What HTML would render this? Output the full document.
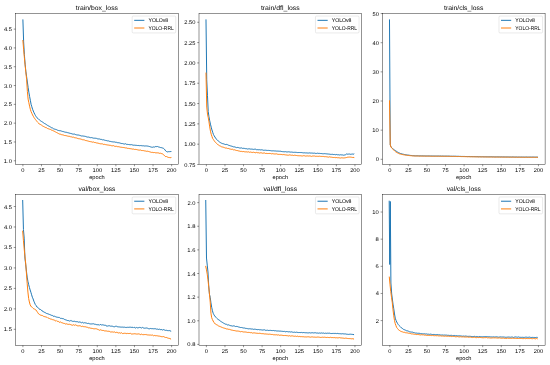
<!DOCTYPE html>
<html><head><meta charset="utf-8"><title>Training loss curves</title>
<style>html,body{margin:0;padding:0;background:#fff;overflow:hidden}svg{display:block}#w{will-change:transform}</style>
</head><body>
<div id="w"><svg width="550" height="365" viewBox="0 0 550 365" font-family="&quot;Liberation Sans&quot;, sans-serif" text-rendering="geometricPrecision">
<rect width="550" height="365" fill="#fff"/>
<clipPath id="c0"><rect x="15.5" y="13.5" width="162.8" height="151"/></clipPath>
<polyline clip-path="url(#c0)" points="22.9,19.9 23.64,41.88 24.39,54.68 25.13,64.25 25.87,71.52 26.62,76.76 27.36,82.03 28.11,87.35 28.85,92.24 29.59,96.36 30.34,100.26 31.08,104.3 31.82,106.76 32.57,109.22 33.31,111.04 34.06,112.81 34.8,114.32 35.54,115.63 36.29,116.8 37.03,117.79 37.77,118.42 38.52,119.27 39.26,119.64 40.01,120.35 40.75,120.99 41.49,121.45 42.24,121.88 42.98,122.37 43.72,122.91 44.47,123.47 45.21,123.79 45.96,124.34 46.7,124.79 47.44,125.32 48.19,125.72 48.93,126.17 49.67,126.49 50.42,126.98 51.16,127.51 51.91,127.99 52.65,128.03 53.39,128.69 54.14,128.98 54.88,129.19 55.62,129.39 56.37,129.57 57.11,130.02 57.85,130.31 58.6,130.51 59.34,130.67 60.09,130.77 60.83,130.79 61.57,131.14 62.32,131.43 63.06,131.39 63.8,131.79 64.55,131.99 65.29,132.21 66.04,132.17 66.78,132.42 67.52,132.63 68.27,132.72 69.01,133.25 69.75,133.15 70.5,133.42 71.24,133.52 71.99,133.92 72.73,134.05 73.47,134.14 74.22,133.96 74.96,134.4 75.7,134.64 76.45,134.84 77.19,134.8 77.94,135.25 78.68,135.03 79.42,135.26 80.17,135.6 80.91,135.65 81.65,136.03 82.4,135.96 83.14,136.01 83.88,136.19 84.63,136.25 85.37,136.37 86.12,136.74 86.86,136.87 87.6,137.1 88.35,137 89.09,137.43 89.83,137.33 90.58,137.7 91.32,137.59 92.07,137.69 92.81,137.94 93.55,138.16 94.3,138.18 95.04,138.22 95.78,138.26 96.53,138.38 97.27,138.74 98.02,138.94 98.76,138.94 99.5,138.97 100.25,139.35 100.99,139.26 101.73,139.49 102.48,139.83 103.22,139.65 103.97,140.14 104.71,140.17 105.45,140.4 106.2,140.52 106.94,140.69 107.68,140.9 108.43,140.86 109.17,141.27 109.92,141.33 110.66,141.48 111.4,141.66 112.15,141.76 112.89,141.91 113.63,141.95 114.38,141.91 115.12,142.21 115.86,142.27 116.61,142.33 117.35,142.67 118.1,142.7 118.84,142.78 119.58,142.91 120.33,143.2 121.07,143.34 121.81,143.58 122.56,143.55 123.3,143.8 124.05,143.96 124.79,144.05 125.53,143.74 126.28,144.29 127.02,144.29 127.76,144.41 128.51,144.51 129.25,144.62 130,144.71 130.74,144.73 131.48,144.64 132.23,144.95 132.97,144.95 133.71,145.26 134.46,145.18 135.2,145.3 135.95,145.26 136.69,145.38 137.43,145.5 138.18,145.39 138.92,145.66 139.66,145.66 140.41,145.58 141.15,145.48 141.89,145.86 142.64,145.79 143.38,145.79 144.13,145.85 144.87,146.12 145.61,145.93 146.36,145.98 147.1,145.84 147.84,146.27 148.59,146.27 149.33,146.49 150.08,146.64 150.82,147.01 151.56,147.16 152.31,147.27 153.05,147.15 153.79,146.89 154.54,147.07 155.28,146.58 156.03,146.67 156.77,146.59 157.51,146.49 158.26,146.86 159,147.04 159.74,147.26 160.49,147.54 161.23,147.56 161.98,147.95 162.72,148.04 163.46,148.33 164.21,148.93 164.95,149.89 165.69,150.91 166.44,151.48 167.18,151.77 167.93,151.99 168.67,151.62 169.41,151.66 170.16,151.58 170.9,151.55" fill="none" stroke="#1f77b4" stroke-width="1" stroke-linejoin="round" stroke-linecap="square"/>
<polyline clip-path="url(#c0)" points="22.9,40.5 23.64,49.41 24.39,57.68 25.13,65.39 25.87,72.43 26.62,79.41 27.36,91.4 28.11,99.13 28.85,102.67 29.59,106.18 30.34,109.28 31.08,111.67 31.82,113.3 32.57,114.94 33.31,116.28 34.06,117.65 34.8,118.69 35.54,119.67 36.29,120.56 37.03,121.53 37.77,122.4 38.52,123.12 39.26,123.98 40.01,124.52 40.75,124.58 41.49,125.14 42.24,125.77 42.98,126.14 43.72,126.58 44.47,126.94 45.21,127.5 45.96,127.45 46.7,127.87 47.44,128.49 48.19,128.67 48.93,129.02 49.67,129.21 50.42,129.4 51.16,129.94 51.91,130.26 52.65,130.42 53.39,130.82 54.14,131.25 54.88,131.52 55.62,132.01 56.37,132.43 57.11,132.82 57.85,133.13 58.6,133.61 59.34,133.97 60.09,134.17 60.83,134.27 61.57,134.69 62.32,134.75 63.06,135.12 63.8,135.08 64.55,135.51 65.29,135.57 66.04,135.6 66.78,135.87 67.52,136.08 68.27,136.26 69.01,136.27 69.75,136.41 70.5,136.72 71.24,136.8 71.99,137.04 72.73,137.26 73.47,137.14 74.22,137.54 74.96,137.84 75.7,137.84 76.45,137.96 77.19,138.34 77.94,138.47 78.68,138.74 79.42,138.79 80.17,138.85 80.91,139.2 81.65,139.36 82.4,139.7 83.14,139.82 83.88,139.8 84.63,140.04 85.37,140.48 86.12,140.65 86.86,140.67 87.6,140.93 88.35,141.17 89.09,141.35 89.83,141.57 90.58,141.66 91.32,141.79 92.07,141.93 92.81,142.25 93.55,142.02 94.3,142.43 95.04,142.61 95.78,142.59 96.53,142.95 97.27,142.98 98.02,143.32 98.76,143.34 99.5,143.58 100.25,143.79 100.99,143.83 101.73,143.82 102.48,143.88 103.22,144.4 103.97,144.31 104.71,144.37 105.45,144.6 106.2,144.68 106.94,144.94 107.68,144.97 108.43,145.09 109.17,145.13 109.92,145.4 110.66,145.35 111.4,145.68 112.15,145.91 112.89,145.67 113.63,145.68 114.38,146.17 115.12,146.53 115.86,146.23 116.61,146.32 117.35,146.66 118.1,146.62 118.84,146.78 119.58,146.92 120.33,147.15 121.07,147.16 121.81,147.36 122.56,147.43 123.3,147.47 124.05,147.65 124.79,147.7 125.53,147.93 126.28,147.92 127.02,148.04 127.76,148.46 128.51,148.4 129.25,148.52 130,148.71 130.74,148.71 131.48,148.85 132.23,149.05 132.97,149.15 133.71,149.09 134.46,149.45 135.2,149.39 135.95,149.45 136.69,149.58 137.43,149.76 138.18,150.12 138.92,149.89 139.66,150.17 140.41,150 141.15,150.37 141.89,150.58 142.64,150.54 143.38,150.59 144.13,150.79 144.87,150.94 145.61,151.04 146.36,151.31 147.1,151.22 147.84,151.26 148.59,151.47 149.33,151.69 150.08,151.95 150.82,152.18 151.56,152.4 152.31,152.3 153.05,152.66 153.79,152.54 154.54,152.5 155.28,152.75 156.03,152.87 156.77,152.82 157.51,152.84 158.26,152.8 159,153.39 159.74,153.3 160.49,153.23 161.23,153.47 161.98,153.83 162.72,153.97 163.46,154.64 164.21,155.25 164.95,156.16 165.69,156.61 166.44,156.5 167.18,157.05 167.93,157.03 168.67,157.53 169.41,157.56 170.16,157.71 170.9,157.57" fill="none" stroke="#ff7f0e" stroke-width="1" stroke-linejoin="round" stroke-linecap="square"/>
<rect x="15.5" y="13.5" width="162.8" height="151" fill="none" stroke="#000" stroke-width="0.42"/>
<path d="M22.9 164.5v1.78M41.49 164.5v1.78M60.09 164.5v1.78M78.68 164.5v1.78M97.27 164.5v1.78M115.86 164.5v1.78M134.46 164.5v1.78M153.05 164.5v1.78M171.64 164.5v1.78M15.5 160.78h-1.78M15.5 141.97h-1.78M15.5 123.16h-1.78M15.5 104.35h-1.78M15.5 85.54h-1.78M15.5 66.73h-1.78M15.5 47.92h-1.78M15.5 29.11h-1.78" stroke="#000" stroke-width="0.42" fill="none"/>
<text transform="matrix(0.1,0.00001,0.00001,0.1,21.3,172.1)" font-size="55" textLength="32.08" lengthAdjust="spacingAndGlyphs" fill="#000" stroke="#000" stroke-width="0">0</text>
<text transform="matrix(0.1,0.00001,0.00001,0.1,38.28,172.1)" font-size="55" textLength="64.17" lengthAdjust="spacingAndGlyphs" fill="#000" stroke="#000" stroke-width="0">25</text>
<text transform="matrix(0.1,0.00001,0.00001,0.1,56.88,172.1)" font-size="55" textLength="64.17" lengthAdjust="spacingAndGlyphs" fill="#000" stroke="#000" stroke-width="0">50</text>
<text transform="matrix(0.1,0.00001,0.00001,0.1,75.47,172.1)" font-size="55" textLength="64.17" lengthAdjust="spacingAndGlyphs" fill="#000" stroke="#000" stroke-width="0">75</text>
<text transform="matrix(0.1,0.00001,0.00001,0.1,92.44,172.1)" font-size="55" textLength="96.71" lengthAdjust="spacingAndGlyphs" fill="#000" stroke="#000" stroke-width="0">100</text>
<text transform="matrix(0.1,0.00001,0.00001,0.1,111.03,172.1)" font-size="55" textLength="96.71" lengthAdjust="spacingAndGlyphs" fill="#000" stroke="#000" stroke-width="0">125</text>
<text transform="matrix(0.1,0.00001,0.00001,0.1,129.62,172.1)" font-size="55" textLength="96.71" lengthAdjust="spacingAndGlyphs" fill="#000" stroke="#000" stroke-width="0">150</text>
<text transform="matrix(0.1,0.00001,0.00001,0.1,148.22,172.1)" font-size="55" textLength="96.71" lengthAdjust="spacingAndGlyphs" fill="#000" stroke="#000" stroke-width="0">175</text>
<text transform="matrix(0.1,0.00001,0.00001,0.1,166.83,172.1)" font-size="55" textLength="96.25" lengthAdjust="spacingAndGlyphs" fill="#000" stroke="#000" stroke-width="0">200</text>
<text transform="matrix(0.1,0.00001,0.00001,0.1,3.87,162.79)" font-size="55" textLength="80.67" lengthAdjust="spacingAndGlyphs" fill="#000" stroke="#000" stroke-width="0">1.0</text>
<text transform="matrix(0.1,0.00001,0.00001,0.1,3.87,143.98)" font-size="55" textLength="80.67" lengthAdjust="spacingAndGlyphs" fill="#000" stroke="#000" stroke-width="0">1.5</text>
<text transform="matrix(0.1,0.00001,0.00001,0.1,3.91,125.17)" font-size="55" textLength="80.21" lengthAdjust="spacingAndGlyphs" fill="#000" stroke="#000" stroke-width="0">2.0</text>
<text transform="matrix(0.1,0.00001,0.00001,0.1,3.91,106.36)" font-size="55" textLength="80.21" lengthAdjust="spacingAndGlyphs" fill="#000" stroke="#000" stroke-width="0">2.5</text>
<text transform="matrix(0.1,0.00001,0.00001,0.1,3.91,87.56)" font-size="55" textLength="80.21" lengthAdjust="spacingAndGlyphs" fill="#000" stroke="#000" stroke-width="0">3.0</text>
<text transform="matrix(0.1,0.00001,0.00001,0.1,3.91,68.75)" font-size="55" textLength="80.21" lengthAdjust="spacingAndGlyphs" fill="#000" stroke="#000" stroke-width="0">3.5</text>
<text transform="matrix(0.1,0.00001,0.00001,0.1,3.91,49.94)" font-size="55" textLength="80.21" lengthAdjust="spacingAndGlyphs" fill="#000" stroke="#000" stroke-width="0">4.0</text>
<text transform="matrix(0.1,0.00001,0.00001,0.1,3.91,31.13)" font-size="55" textLength="80.21" lengthAdjust="spacingAndGlyphs" fill="#000" stroke="#000" stroke-width="0">4.5</text>
<text transform="matrix(0.1,0.00001,0.00001,0.1,75.84,10.44)" font-size="66" textLength="421.21" lengthAdjust="spacingAndGlyphs" fill="#000" stroke="#000" stroke-width="0">train/box_loss</text>
<text transform="matrix(0.1,0.00001,0.00001,0.1,89.15,179.27)" font-size="55" textLength="154.92" lengthAdjust="spacingAndGlyphs" fill="#000" stroke="#000" stroke-width="0">epoch</text>
<path d="M133.18 32.93L174.74 32.93Q175.75 32.93 175.75 31.91L175.75 17.06Q175.75 16.05 174.74 16.05L133.18 16.05Q132.17 16.05 132.17 17.06L132.17 31.91Q132.17 32.93 133.18 32.93Z" fill="#fff" fill-opacity="0.8" stroke="#ccc" stroke-opacity="0.8" stroke-width="0.51"/>
<path d="M134.2 20.33L144.39 20.33" stroke="#1f77b4" stroke-width="1"/>
<path d="M134.2 28.01L144.39 28.01" stroke="#ff7f0e" stroke-width="1"/>
<text transform="matrix(0.1,0.00001,0.00001,0.1,148.46,22.12)" font-size="55" textLength="197.08" lengthAdjust="spacingAndGlyphs" fill="#000" stroke="#000" stroke-width="0">YOLOv8</text>
<text transform="matrix(0.1,0.00001,0.00001,0.1,148.46,29.8)" font-size="55" textLength="252.54" lengthAdjust="spacingAndGlyphs" fill="#000" stroke="#000" stroke-width="0">YOLO-RRL</text>
<clipPath id="c1"><rect x="199" y="13.5" width="162.6" height="151"/></clipPath>
<polyline clip-path="url(#c1)" points="206,19.9 206.74,79.86 207.49,95.77 208.23,111.63 208.97,116.73 209.71,120.82 210.46,124.2 211.2,127.17 211.94,129.97 212.69,132.31 213.43,134.45 214.17,135.77 214.91,137.04 215.66,138.09 216.4,139.19 217.14,139.93 217.88,140.72 218.63,141.23 219.37,141.9 220.11,142.3 220.86,142.95 221.6,143.24 222.34,143.55 223.08,143.81 223.83,143.85 224.57,144.26 225.31,144.59 226.06,144.32 226.8,144.48 227.54,144.69 228.28,145.17 229.03,145.3 229.77,145.66 230.51,145.87 231.26,146.06 232,146.32 232.74,146.5 233.48,146.85 234.23,146.81 234.97,147.06 235.71,147.29 236.46,147.61 237.2,147.43 237.94,147.51 238.68,147.67 239.43,147.96 240.17,147.9 240.91,148.18 241.65,147.89 242.4,148.33 243.14,148.41 243.88,148.19 244.63,148.46 245.37,148.67 246.11,148.61 246.85,148.8 247.6,149.04 248.34,148.86 249.08,148.86 249.83,148.87 250.57,149.11 251.31,149.08 252.05,149.15 252.8,149.22 253.54,149.38 254.28,149.23 255.03,149.24 255.77,149.19 256.51,149.69 257.25,149.62 258,149.85 258.74,149.73 259.48,149.7 260.22,149.9 260.97,149.89 261.71,149.81 262.45,149.91 263.2,150.29 263.94,150.17 264.68,150.24 265.42,150.21 266.17,150.22 266.91,150.47 267.65,150.41 268.4,150.39 269.14,150.52 269.88,150.48 270.62,150.67 271.37,150.84 272.11,150.66 272.85,150.99 273.6,150.8 274.34,150.95 275.08,150.89 275.82,151.02 276.57,151.1 277.31,151.1 278.05,151.12 278.79,151.18 279.54,151.22 280.28,151.18 281.02,151.39 281.77,151.52 282.51,151.63 283.25,151.65 283.99,151.92 284.74,151.72 285.48,151.67 286.22,152 286.97,151.7 287.71,151.99 288.45,151.81 289.19,152.02 289.94,151.78 290.68,152.18 291.42,152.09 292.17,152.04 292.91,152.41 293.65,152.34 294.39,152.3 295.14,152.25 295.88,152.37 296.62,152.4 297.37,152.55 298.11,152.6 298.85,152.46 299.59,152.52 300.34,152.56 301.08,152.5 301.82,152.63 302.56,152.72 303.31,152.85 304.05,152.96 304.79,152.74 305.54,152.93 306.28,152.84 307.02,153.18 307.76,152.95 308.51,153.05 309.25,152.9 309.99,152.95 310.74,153.1 311.48,153.06 312.22,153.18 312.96,152.98 313.71,153.28 314.45,153.12 315.19,153.47 315.94,153.26 316.68,153.45 317.42,153.19 318.16,153.44 318.91,153.32 319.65,153.4 320.39,153.5 321.13,153.5 321.88,153.61 322.62,153.72 323.36,153.76 324.11,153.72 324.85,153.62 325.59,153.75 326.33,153.88 327.08,153.71 327.82,154.11 328.56,154.05 329.31,154.11 330.05,154.32 330.79,154.35 331.53,154.36 332.28,154.27 333.02,154.49 333.76,154.55 334.51,154.46 335.25,154.74 335.99,154.73 336.73,154.48 337.48,154.78 338.22,154.66 338.96,154.99 339.7,154.98 340.45,154.78 341.19,154.84 341.93,154.98 342.68,154.95 343.42,155.18 344.16,155.09 344.9,154.91 345.65,154.7 346.39,154.02 347.13,154.14 347.88,154.2 348.62,154.08 349.36,154.02 350.1,154.18 350.85,154.35 351.59,154.15 352.33,154.01 353.08,154.34 353.82,153.96" fill="none" stroke="#1f77b4" stroke-width="1" stroke-linejoin="round" stroke-linecap="square"/>
<polyline clip-path="url(#c1)" points="206,73.1 206.74,107.05 207.49,114.05 208.23,117.56 208.97,121.78 209.71,126.9 210.46,131.2 211.2,134.23 211.94,136.42 212.69,138.54 213.43,139.56 214.17,140.71 214.91,141.76 215.66,142.6 216.4,143.28 217.14,143.99 217.88,144.66 218.63,145.08 219.37,145.67 220.11,145.94 220.86,146.33 221.6,146.83 222.34,146.99 223.08,147.12 223.83,147.39 224.57,147.68 225.31,148.04 226.06,147.96 226.8,148.14 227.54,148.46 228.28,148.42 229.03,148.67 229.77,148.99 230.51,149.13 231.26,149.25 232,149.48 232.74,149.23 233.48,149.86 234.23,149.79 234.97,149.87 235.71,150.28 236.46,150.51 237.2,150.56 237.94,150.66 238.68,150.96 239.43,151.09 240.17,151.38 240.91,151.39 241.65,151.42 242.4,151.62 243.14,151.54 243.88,151.54 244.63,151.8 245.37,151.87 246.11,151.85 246.85,151.85 247.6,152.04 248.34,151.78 249.08,152.22 249.83,152.26 250.57,152.06 251.31,152.32 252.05,152.25 252.8,152.51 253.54,152.23 254.28,152.41 255.03,152.66 255.77,152.76 256.51,152.41 257.25,152.66 258,152.8 258.74,152.74 259.48,153.05 260.22,152.76 260.97,152.99 261.71,152.87 262.45,153.21 263.2,153.09 263.94,153.1 264.68,152.99 265.42,153.44 266.17,153.39 266.91,153.44 267.65,153.54 268.4,153.5 269.14,153.44 269.88,153.48 270.62,153.54 271.37,153.85 272.11,153.57 272.85,153.74 273.6,153.83 274.34,153.95 275.08,154.05 275.82,153.89 276.57,153.89 277.31,154.16 278.05,154.37 278.79,154.37 279.54,154.36 280.28,154.36 281.02,154.49 281.77,154.48 282.51,154.67 283.25,154.53 283.99,154.7 284.74,154.73 285.48,154.86 286.22,154.88 286.97,155.21 287.71,155.14 288.45,155.19 289.19,154.82 289.94,155.07 290.68,155.09 291.42,155.28 292.17,154.99 292.91,155.45 293.65,155.48 294.39,155.24 295.14,155.33 295.88,155.39 296.62,155.53 297.37,155.64 298.11,155.85 298.85,155.62 299.59,155.77 300.34,155.73 301.08,155.95 301.82,155.86 302.56,155.97 303.31,155.7 304.05,155.83 304.79,155.78 305.54,156.09 306.28,156.01 307.02,155.92 307.76,155.92 308.51,156.06 309.25,155.94 309.99,155.93 310.74,156.12 311.48,156.38 312.22,156.08 312.96,156.06 313.71,156.01 314.45,156.01 315.19,156.26 315.94,156.32 316.68,156.25 317.42,156.31 318.16,156.32 318.91,156.35 319.65,156.18 320.39,156.34 321.13,156.44 321.88,156.37 322.62,156.45 323.36,156.45 324.11,156.56 324.85,156.75 325.59,156.65 326.33,156.74 327.08,156.92 327.82,156.96 328.56,157.14 329.31,156.75 330.05,157.17 330.79,157.07 331.53,157.21 332.28,157.35 333.02,157.44 333.76,157.5 334.51,157.45 335.25,157.68 335.99,157.51 336.73,157.58 337.48,157.74 338.22,157.62 338.96,157.99 339.7,157.89 340.45,158.06 341.19,157.83 341.93,157.81 342.68,157.9 343.42,157.98 344.16,157.83 344.9,157.93 345.65,157.69 346.39,157.59 347.13,157.13 347.88,157.33 348.62,157.12 349.36,157.09 350.1,157.13 350.85,157.1 351.59,157.29 352.33,157.44 353.08,157.39 353.82,157.52" fill="none" stroke="#ff7f0e" stroke-width="1" stroke-linejoin="round" stroke-linecap="square"/>
<rect x="199" y="13.5" width="162.6" height="151" fill="none" stroke="#000" stroke-width="0.42"/>
<path d="M206.39 164.5v1.78M224.96 164.5v1.78M243.53 164.5v1.78M262.1 164.5v1.78M280.67 164.5v1.78M299.24 164.5v1.78M317.81 164.5v1.78M336.38 164.5v1.78M354.95 164.5v1.78M199 164.5h-1.78M199 144.18h-1.78M199 123.86h-1.78M199 103.55h-1.78M199 83.23h-1.78M199 62.91h-1.78M199 42.59h-1.78M199 22.28h-1.78" stroke="#000" stroke-width="0.42" fill="none"/>
<text transform="matrix(0.1,0.00001,0.00001,0.1,204.79,172.1)" font-size="55" textLength="32.08" lengthAdjust="spacingAndGlyphs" fill="#000" stroke="#000" stroke-width="0">0</text>
<text transform="matrix(0.1,0.00001,0.00001,0.1,221.75,172.1)" font-size="55" textLength="64.17" lengthAdjust="spacingAndGlyphs" fill="#000" stroke="#000" stroke-width="0">25</text>
<text transform="matrix(0.1,0.00001,0.00001,0.1,240.32,172.1)" font-size="55" textLength="64.17" lengthAdjust="spacingAndGlyphs" fill="#000" stroke="#000" stroke-width="0">50</text>
<text transform="matrix(0.1,0.00001,0.00001,0.1,258.89,172.1)" font-size="55" textLength="64.17" lengthAdjust="spacingAndGlyphs" fill="#000" stroke="#000" stroke-width="0">75</text>
<text transform="matrix(0.1,0.00001,0.00001,0.1,275.84,172.1)" font-size="55" textLength="96.71" lengthAdjust="spacingAndGlyphs" fill="#000" stroke="#000" stroke-width="0">100</text>
<text transform="matrix(0.1,0.00001,0.00001,0.1,294.41,172.1)" font-size="55" textLength="96.71" lengthAdjust="spacingAndGlyphs" fill="#000" stroke="#000" stroke-width="0">125</text>
<text transform="matrix(0.1,0.00001,0.00001,0.1,312.98,172.1)" font-size="55" textLength="96.71" lengthAdjust="spacingAndGlyphs" fill="#000" stroke="#000" stroke-width="0">150</text>
<text transform="matrix(0.1,0.00001,0.00001,0.1,331.55,172.1)" font-size="55" textLength="96.71" lengthAdjust="spacingAndGlyphs" fill="#000" stroke="#000" stroke-width="0">175</text>
<text transform="matrix(0.1,0.00001,0.00001,0.1,350.14,172.1)" font-size="55" textLength="96.25" lengthAdjust="spacingAndGlyphs" fill="#000" stroke="#000" stroke-width="0">200</text>
<text transform="matrix(0.1,0.00001,0.00001,0.1,184.21,166.52)" font-size="55" textLength="112.29" lengthAdjust="spacingAndGlyphs" fill="#000" stroke="#000" stroke-width="0">0.75</text>
<text transform="matrix(0.1,0.00001,0.00001,0.1,184.16,146.2)" font-size="55" textLength="112.75" lengthAdjust="spacingAndGlyphs" fill="#000" stroke="#000" stroke-width="0">1.00</text>
<text transform="matrix(0.1,0.00001,0.00001,0.1,184.16,125.88)" font-size="55" textLength="112.75" lengthAdjust="spacingAndGlyphs" fill="#000" stroke="#000" stroke-width="0">1.25</text>
<text transform="matrix(0.1,0.00001,0.00001,0.1,184.16,105.56)" font-size="55" textLength="112.75" lengthAdjust="spacingAndGlyphs" fill="#000" stroke="#000" stroke-width="0">1.50</text>
<text transform="matrix(0.1,0.00001,0.00001,0.1,184.16,85.25)" font-size="55" textLength="112.75" lengthAdjust="spacingAndGlyphs" fill="#000" stroke="#000" stroke-width="0">1.75</text>
<text transform="matrix(0.1,0.00001,0.00001,0.1,184.21,64.93)" font-size="55" textLength="112.29" lengthAdjust="spacingAndGlyphs" fill="#000" stroke="#000" stroke-width="0">2.00</text>
<text transform="matrix(0.1,0.00001,0.00001,0.1,184.21,44.61)" font-size="55" textLength="112.29" lengthAdjust="spacingAndGlyphs" fill="#000" stroke="#000" stroke-width="0">2.25</text>
<text transform="matrix(0.1,0.00001,0.00001,0.1,184.21,24.29)" font-size="55" textLength="112.29" lengthAdjust="spacingAndGlyphs" fill="#000" stroke="#000" stroke-width="0">2.50</text>
<text transform="matrix(0.1,0.00001,0.00001,0.1,260.89,10.44)" font-size="66" textLength="388.21" lengthAdjust="spacingAndGlyphs" fill="#000" stroke="#000" stroke-width="0">train/dfl_loss</text>
<text transform="matrix(0.1,0.00001,0.00001,0.1,272.55,179.27)" font-size="55" textLength="154.92" lengthAdjust="spacingAndGlyphs" fill="#000" stroke="#000" stroke-width="0">epoch</text>
<path d="M316.48 32.93L358.04 32.93Q359.05 32.93 359.05 31.91L359.05 17.06Q359.05 16.05 358.04 16.05L316.48 16.05Q315.47 16.05 315.47 17.06L315.47 31.91Q315.47 32.93 316.48 32.93Z" fill="#fff" fill-opacity="0.8" stroke="#ccc" stroke-opacity="0.8" stroke-width="0.51"/>
<path d="M317.5 20.33L327.69 20.33" stroke="#1f77b4" stroke-width="1"/>
<path d="M317.5 28.01L327.69 28.01" stroke="#ff7f0e" stroke-width="1"/>
<text transform="matrix(0.1,0.00001,0.00001,0.1,331.76,22.12)" font-size="55" textLength="197.08" lengthAdjust="spacingAndGlyphs" fill="#000" stroke="#000" stroke-width="0">YOLOv8</text>
<text transform="matrix(0.1,0.00001,0.00001,0.1,331.76,29.8)" font-size="55" textLength="252.54" lengthAdjust="spacingAndGlyphs" fill="#000" stroke="#000" stroke-width="0">YOLO-RRL</text>
<clipPath id="c2"><rect x="382.4" y="13.5" width="162.7" height="151"/></clipPath>
<polyline clip-path="url(#c2)" points="389.5,19.9 390.24,144.66 390.99,146.72 391.73,147.82 392.47,148.43 393.22,149.02 393.96,149.65 394.7,150.16 395.45,150.58 396.19,151.13 396.93,151.63 397.68,152.15 398.42,152.55 399.16,152.95 399.91,153.19 400.65,153.58 401.39,153.67 402.14,154 402.88,154.15 403.62,154.3 404.37,154.47 405.11,154.61 405.85,154.77 406.6,154.87 407.34,155.04 408.08,155.03 408.82,155.2 409.57,155.27 410.31,155.42 411.05,155.4 411.8,155.54 412.54,155.63 413.28,155.62 414.03,155.75 414.77,155.75 415.51,155.8 416.26,155.81 417,155.76 417.74,155.78 418.49,155.82 419.23,155.87 419.97,155.88 420.72,155.84 421.46,155.85 422.2,155.86 422.95,155.87 423.69,155.9 424.43,155.91 425.18,156 425.92,155.91 426.66,155.93 427.41,155.96 428.15,155.92 428.89,155.94 429.64,155.96 430.38,156 431.12,155.93 431.87,156.03 432.61,155.97 433.35,156 434.1,156.03 434.84,156.02 435.58,156.04 436.33,156.02 437.07,156.02 437.81,156.04 438.56,155.99 439.3,156.08 440.04,156.02 440.79,156.01 441.53,156.13 442.27,156.06 443.01,156.03 443.76,156.15 444.5,156.08 445.24,156.14 445.99,156.08 446.73,156.12 447.47,156.08 448.22,156.08 448.96,156.13 449.7,156.17 450.45,156.21 451.19,156.29 451.93,156.17 452.68,156.26 453.42,156.22 454.16,156.25 454.91,156.21 455.65,156.23 456.39,156.27 457.14,156.27 457.88,156.32 458.62,156.31 459.37,156.4 460.11,156.37 460.85,156.39 461.6,156.44 462.34,156.43 463.08,156.43 463.83,156.44 464.57,156.45 465.31,156.51 466.06,156.51 466.8,156.51 467.54,156.54 468.29,156.51 469.03,156.56 469.77,156.5 470.52,156.61 471.26,156.58 472,156.6 472.75,156.62 473.49,156.61 474.23,156.62 474.98,156.68 475.72,156.65 476.46,156.63 477.2,156.68 477.95,156.62 478.69,156.75 479.43,156.69 480.18,156.7 480.92,156.79 481.66,156.79 482.41,156.73 483.15,156.75 483.89,156.78 484.64,156.81 485.38,156.75 486.12,156.77 486.87,156.81 487.61,156.79 488.35,156.81 489.1,156.81 489.84,156.76 490.58,156.78 491.33,156.72 492.07,156.81 492.81,156.88 493.56,156.8 494.3,156.89 495.04,156.89 495.79,156.85 496.53,156.86 497.27,156.87 498.02,156.85 498.76,156.87 499.5,156.89 500.25,156.92 500.99,156.93 501.73,156.88 502.48,156.95 503.22,156.9 503.96,156.92 504.71,156.95 505.45,156.94 506.19,156.94 506.94,156.96 507.68,156.94 508.42,156.94 509.17,156.96 509.91,157.01 510.65,156.98 511.39,157.06 512.14,157 512.88,156.89 513.62,156.99 514.37,157.07 515.11,157.01 515.85,157 516.6,156.99 517.34,157.08 518.08,157.07 518.83,157.06 519.57,157.06 520.31,157.1 521.06,157.08 521.8,157.01 522.54,157.08 523.29,157.07 524.03,157.06 524.77,157.09 525.52,157.07 526.26,156.97 527,157.13 527.75,157.12 528.49,157.08 529.23,157.07 529.98,157.09 530.72,157.04 531.46,157.1 532.21,157.08 532.95,157.08 533.69,157.06 534.44,157.07 535.18,157.14 535.92,157.15 536.67,157.12 537.41,157.1" fill="none" stroke="#1f77b4" stroke-width="1" stroke-linejoin="round" stroke-linecap="square"/>
<polyline clip-path="url(#c2)" points="389.5,100.8 390.24,144.97 390.99,147.01 391.73,148.09 392.47,148.72 393.22,149.42 393.96,150.27 394.7,151 395.45,151.65 396.19,152.19 396.93,152.6 397.68,152.96 398.42,153.34 399.16,153.74 399.91,153.94 400.65,154.08 401.39,154.33 402.14,154.47 402.88,154.65 403.62,154.79 404.37,154.91 405.11,155.07 405.85,155.15 406.6,155.23 407.34,155.36 408.08,155.47 408.82,155.47 409.57,155.6 410.31,155.66 411.05,155.76 411.8,155.78 412.54,155.89 413.28,155.93 414.03,155.96 414.77,155.96 415.51,156 416.26,155.99 417,155.99 417.74,156.06 418.49,156.02 419.23,156.12 419.97,156.11 420.72,156.02 421.46,156.12 422.2,156.07 422.95,156.12 423.69,156.13 424.43,156.07 425.18,156.14 425.92,156.14 426.66,156.19 427.41,156.12 428.15,156.2 428.89,156.13 429.64,156.17 430.38,156.15 431.12,156.24 431.87,156.21 432.61,156.29 433.35,156.23 434.1,156.24 434.84,156.24 435.58,156.2 436.33,156.22 437.07,156.28 437.81,156.22 438.56,156.24 439.3,156.24 440.04,156.27 440.79,156.24 441.53,156.26 442.27,156.28 443.01,156.28 443.76,156.25 444.5,156.33 445.24,156.26 445.99,156.27 446.73,156.28 447.47,156.37 448.22,156.33 448.96,156.32 449.7,156.33 450.45,156.4 451.19,156.36 451.93,156.36 452.68,156.44 453.42,156.39 454.16,156.43 454.91,156.46 455.65,156.46 456.39,156.49 457.14,156.55 457.88,156.5 458.62,156.49 459.37,156.48 460.11,156.55 460.85,156.56 461.6,156.6 462.34,156.59 463.08,156.6 463.83,156.61 464.57,156.63 465.31,156.67 466.06,156.67 466.8,156.7 467.54,156.78 468.29,156.74 469.03,156.68 469.77,156.81 470.52,156.78 471.26,156.74 472,156.82 472.75,156.8 473.49,156.79 474.23,156.8 474.98,156.8 475.72,156.85 476.46,156.9 477.2,156.86 477.95,156.89 478.69,156.95 479.43,156.85 480.18,156.91 480.92,156.9 481.66,156.88 482.41,156.89 483.15,156.93 483.89,156.96 484.64,156.93 485.38,156.96 486.12,156.99 486.87,156.98 487.61,157.01 488.35,157 489.1,157.01 489.84,157.06 490.58,157.03 491.33,157.02 492.07,157.05 492.81,157 493.56,157.02 494.3,157.07 495.04,157.07 495.79,157.11 496.53,157.06 497.27,157.02 498.02,157.15 498.76,157.12 499.5,157.05 500.25,157.15 500.99,157.11 501.73,157.05 502.48,157.1 503.22,157.11 503.96,157.19 504.71,157.11 505.45,157.13 506.19,157.14 506.94,157.14 507.68,157.13 508.42,157.17 509.17,157.21 509.91,157.2 510.65,157.15 511.39,157.15 512.14,157.2 512.88,157.17 513.62,157.18 514.37,157.15 515.11,157.28 515.85,157.25 516.6,157.19 517.34,157.26 518.08,157.28 518.83,157.15 519.57,157.22 520.31,157.23 521.06,157.27 521.8,157.25 522.54,157.25 523.29,157.26 524.03,157.33 524.77,157.34 525.52,157.25 526.26,157.24 527,157.37 527.75,157.24 528.49,157.26 529.23,157.29 529.98,157.3 530.72,157.33 531.46,157.3 532.21,157.26 532.95,157.31 533.69,157.3 534.44,157.36 535.18,157.3 535.92,157.25 536.67,157.26 537.41,157.35" fill="none" stroke="#ff7f0e" stroke-width="1" stroke-linejoin="round" stroke-linecap="square"/>
<rect x="382.4" y="13.5" width="162.7" height="151" fill="none" stroke="#000" stroke-width="0.42"/>
<path d="M389.8 164.5v1.78M408.38 164.5v1.78M426.96 164.5v1.78M445.54 164.5v1.78M464.12 164.5v1.78M482.7 164.5v1.78M501.28 164.5v1.78M519.87 164.5v1.78M538.45 164.5v1.78M382.4 159.31h-1.78M382.4 130.16h-1.78M382.4 101.01h-1.78M382.4 71.86h-1.78M382.4 42.71h-1.78M382.4 13.56h-1.78" stroke="#000" stroke-width="0.42" fill="none"/>
<text transform="matrix(0.1,0.00001,0.00001,0.1,388.19,172.1)" font-size="55" textLength="32.08" lengthAdjust="spacingAndGlyphs" fill="#000" stroke="#000" stroke-width="0">0</text>
<text transform="matrix(0.1,0.00001,0.00001,0.1,405.17,172.1)" font-size="55" textLength="64.17" lengthAdjust="spacingAndGlyphs" fill="#000" stroke="#000" stroke-width="0">25</text>
<text transform="matrix(0.1,0.00001,0.00001,0.1,423.75,172.1)" font-size="55" textLength="64.17" lengthAdjust="spacingAndGlyphs" fill="#000" stroke="#000" stroke-width="0">50</text>
<text transform="matrix(0.1,0.00001,0.00001,0.1,442.33,172.1)" font-size="55" textLength="64.17" lengthAdjust="spacingAndGlyphs" fill="#000" stroke="#000" stroke-width="0">75</text>
<text transform="matrix(0.1,0.00001,0.00001,0.1,459.29,172.1)" font-size="55" textLength="96.71" lengthAdjust="spacingAndGlyphs" fill="#000" stroke="#000" stroke-width="0">100</text>
<text transform="matrix(0.1,0.00001,0.00001,0.1,477.87,172.1)" font-size="55" textLength="96.71" lengthAdjust="spacingAndGlyphs" fill="#000" stroke="#000" stroke-width="0">125</text>
<text transform="matrix(0.1,0.00001,0.00001,0.1,496.45,172.1)" font-size="55" textLength="96.71" lengthAdjust="spacingAndGlyphs" fill="#000" stroke="#000" stroke-width="0">150</text>
<text transform="matrix(0.1,0.00001,0.00001,0.1,515.03,172.1)" font-size="55" textLength="96.71" lengthAdjust="spacingAndGlyphs" fill="#000" stroke="#000" stroke-width="0">175</text>
<text transform="matrix(0.1,0.00001,0.00001,0.1,533.64,172.1)" font-size="55" textLength="96.25" lengthAdjust="spacingAndGlyphs" fill="#000" stroke="#000" stroke-width="0">200</text>
<text transform="matrix(0.1,0.00001,0.00001,0.1,375.63,161.33)" font-size="55" textLength="32.08" lengthAdjust="spacingAndGlyphs" fill="#000" stroke="#000" stroke-width="0">0</text>
<text transform="matrix(0.1,0.00001,0.00001,0.1,372.37,132.18)" font-size="55" textLength="64.62" lengthAdjust="spacingAndGlyphs" fill="#000" stroke="#000" stroke-width="0">10</text>
<text transform="matrix(0.1,0.00001,0.00001,0.1,372.42,103.03)" font-size="55" textLength="64.17" lengthAdjust="spacingAndGlyphs" fill="#000" stroke="#000" stroke-width="0">20</text>
<text transform="matrix(0.1,0.00001,0.00001,0.1,372.42,73.88)" font-size="55" textLength="64.17" lengthAdjust="spacingAndGlyphs" fill="#000" stroke="#000" stroke-width="0">30</text>
<text transform="matrix(0.1,0.00001,0.00001,0.1,372.42,44.73)" font-size="55" textLength="64.17" lengthAdjust="spacingAndGlyphs" fill="#000" stroke="#000" stroke-width="0">40</text>
<text transform="matrix(0.1,0.00001,0.00001,0.1,372.42,15.57)" font-size="55" textLength="64.17" lengthAdjust="spacingAndGlyphs" fill="#000" stroke="#000" stroke-width="0">50</text>
<text transform="matrix(0.1,0.00001,0.00001,0.1,444.06,10.44)" font-size="66" textLength="393.71" lengthAdjust="spacingAndGlyphs" fill="#000" stroke="#000" stroke-width="0">train/cls_loss</text>
<text transform="matrix(0.1,0.00001,0.00001,0.1,456,179.27)" font-size="55" textLength="154.92" lengthAdjust="spacingAndGlyphs" fill="#000" stroke="#000" stroke-width="0">epoch</text>
<path d="M499.98 32.93L541.54 32.93Q542.55 32.93 542.55 31.91L542.55 17.06Q542.55 16.05 541.54 16.05L499.98 16.05Q498.97 16.05 498.97 17.06L498.97 31.91Q498.97 32.93 499.98 32.93Z" fill="#fff" fill-opacity="0.8" stroke="#ccc" stroke-opacity="0.8" stroke-width="0.51"/>
<path d="M501 20.33L511.19 20.33" stroke="#1f77b4" stroke-width="1"/>
<path d="M501 28.01L511.19 28.01" stroke="#ff7f0e" stroke-width="1"/>
<text transform="matrix(0.1,0.00001,0.00001,0.1,515.26,22.12)" font-size="55" textLength="197.08" lengthAdjust="spacingAndGlyphs" fill="#000" stroke="#000" stroke-width="0">YOLOv8</text>
<text transform="matrix(0.1,0.00001,0.00001,0.1,515.26,29.8)" font-size="55" textLength="252.54" lengthAdjust="spacingAndGlyphs" fill="#000" stroke="#000" stroke-width="0">YOLO-RRL</text>
<clipPath id="c3"><rect x="15.5" y="194.4" width="162.8" height="151"/></clipPath>
<polyline clip-path="url(#c3)" points="22.7,200.5 23.44,229.53 24.19,238.15 24.93,258.13 25.67,264.18 26.42,271.03 27.16,277.07 27.91,281.29 28.65,284.56 29.39,287.37 30.14,289.96 30.88,292.27 31.62,294.76 32.37,297.26 33.11,298.94 33.86,301.18 34.6,302.89 35.34,304.56 36.09,305.47 36.83,306.91 37.57,307.2 38.32,307.96 39.06,308.83 39.81,309.46 40.55,309.53 41.29,309.98 42.04,310.94 42.78,311.08 43.52,312 44.27,312.21 45.01,312.57 45.76,312.92 46.5,313.44 47.24,313.53 47.99,314.15 48.73,314.08 49.47,314.45 50.22,314.63 50.96,315.22 51.71,315.36 52.45,315.41 53.19,316.35 53.94,316.01 54.68,316.29 55.42,316.63 56.17,317.16 56.91,316.91 57.65,317.33 58.4,317.42 59.14,317.28 59.89,318.07 60.63,318.38 61.37,318.34 62.12,318.66 62.86,318.56 63.6,318.81 64.35,319.33 65.09,319.81 65.84,319.77 66.58,320.16 67.32,320.5 68.07,320.46 68.81,320.72 69.55,321.07 70.3,320.56 71.04,321.16 71.79,320.65 72.53,321.32 73.27,321.37 74.02,321.3 74.76,321.28 75.5,321.62 76.25,321.64 76.99,321.86 77.74,321.72 78.48,322.17 79.22,321.9 79.97,322.18 80.71,322.27 81.45,322.77 82.2,322.22 82.94,322.58 83.68,323.07 84.43,322.74 85.17,322.7 85.92,323.17 86.66,323.14 87.4,323.52 88.15,323.2 88.89,323.57 89.63,323.78 90.38,323.97 91.12,323.56 91.87,324.26 92.61,323.8 93.35,323.75 94.1,323.98 94.84,324.34 95.58,324.32 96.33,324.6 97.07,324.7 97.82,324.74 98.56,324.69 99.3,325.28 100.05,324.4 100.79,324.6 101.53,324.98 102.28,324.89 103.02,324.66 103.77,325.17 104.51,325.27 105.25,324.95 106,325.83 106.74,326.02 107.48,326.08 108.23,325.75 108.97,325.99 109.72,325.76 110.46,326.16 111.2,326.02 111.95,326.36 112.69,326.25 113.43,326.65 114.18,326.67 114.92,326.83 115.66,326.21 116.41,326.22 117.15,326.81 117.9,326.63 118.64,326.92 119.38,326.94 120.13,326.96 120.87,327.18 121.61,327.13 122.36,327.15 123.1,326.85 123.85,327.52 124.59,327.17 125.33,327.43 126.08,327.27 126.82,327.53 127.56,327.29 128.31,327.33 129.05,327.34 129.8,327.16 130.54,327.22 131.28,327.35 132.03,327.39 132.77,327.21 133.51,328.04 134.26,327.27 135,327.46 135.75,328.15 136.49,327.44 137.23,327.82 137.98,327.83 138.72,327.66 139.46,327.41 140.21,327.42 140.95,327.83 141.69,327.98 142.44,327.4 143.18,328 143.93,327.85 144.67,328.26 145.41,328.14 146.16,327.95 146.9,328.09 147.64,328.25 148.39,328.61 149.13,329.07 149.88,328.48 150.62,328.47 151.36,328.67 152.11,328.56 152.85,328.78 153.59,328.78 154.34,328.75 155.08,328.62 155.83,328.92 156.57,329.16 157.31,329.03 158.06,329.45 158.8,329.39 159.54,329.2 160.29,329.73 161.03,329.12 161.78,329.76 162.52,330.01 163.26,329.6 164.01,329.75 164.75,330.12 165.49,330.36 166.24,330.26 166.98,330.36 167.73,330.67 168.47,330.67 169.21,330.47 169.96,330.87 170.7,331.07" fill="none" stroke="#1f77b4" stroke-width="1" stroke-linejoin="round" stroke-linecap="square"/>
<polyline clip-path="url(#c3)" points="22.7,231.2 23.44,240.69 24.19,248.97 24.93,256.14 25.67,263 26.42,273.04 27.16,283.26 27.91,292.06 28.65,298.46 29.39,301.99 30.14,304.74 30.88,306.12 31.62,307.01 32.37,307.48 33.11,308.28 33.86,308.95 34.6,308.96 35.34,309.74 36.09,310.1 36.83,311.26 37.57,312.39 38.32,313.63 39.06,313.92 39.81,314.75 40.55,315.14 41.29,315.41 42.04,315.17 42.78,315.94 43.52,316.33 44.27,316.62 45.01,316.48 45.76,316.99 46.5,317.15 47.24,317.48 47.99,318.22 48.73,318.06 49.47,318.52 50.22,319.01 50.96,318.93 51.71,319.3 52.45,319.62 53.19,319.86 53.94,319.8 54.68,320.36 55.42,320.91 56.17,320.45 56.91,321.27 57.65,321.34 58.4,321.4 59.14,322.28 59.89,322.22 60.63,321.99 61.37,322.54 62.12,322.89 62.86,322.94 63.6,323.37 64.35,323.4 65.09,323.78 65.84,324.15 66.58,323.82 67.32,324.2 68.07,324.18 68.81,324.46 69.55,324.27 70.3,324.53 71.04,324.72 71.79,325.09 72.53,325.24 73.27,324.74 74.02,324.95 74.76,325.39 75.5,324.84 76.25,325.3 76.99,325.48 77.74,325.9 78.48,325.87 79.22,325.73 79.97,325.84 80.71,325.99 81.45,326.55 82.2,326.21 82.94,326.38 83.68,326.68 84.43,326.71 85.17,326.85 85.92,326.78 86.66,327.2 87.4,327.25 88.15,327.8 88.89,327.84 89.63,327.83 90.38,328.16 91.12,328.08 91.87,328.57 92.61,328.48 93.35,328.78 94.1,328.48 94.84,329.03 95.58,328.69 96.33,328.75 97.07,329.3 97.82,329.3 98.56,329.69 99.3,330.32 100.05,329.71 100.79,329.89 101.53,330.23 102.28,330.43 103.02,330.4 103.77,330.53 104.51,330.88 105.25,330.97 106,330.73 106.74,331.09 107.48,331.25 108.23,331.12 108.97,331.56 109.72,331.41 110.46,331.97 111.2,331.91 111.95,332 112.69,331.95 113.43,332.17 114.18,331.83 114.92,332.14 115.66,332.59 116.41,332.09 117.15,332.9 117.9,332.36 118.64,333.04 119.38,332.73 120.13,333.19 120.87,333.1 121.61,332.76 122.36,333.49 123.1,333.59 123.85,333.28 124.59,333.28 125.33,333.35 126.08,333.2 126.82,333.75 127.56,333.4 128.31,333.56 129.05,333.42 129.8,333.5 130.54,333.38 131.28,334.03 132.03,333.73 132.77,334.05 133.51,333.86 134.26,333.73 135,333.87 135.75,333.86 136.49,334.04 137.23,334 137.98,334.07 138.72,333.87 139.46,334.07 140.21,334.71 140.95,334.21 141.69,334.18 142.44,334.57 143.18,334.89 143.93,334.26 144.67,334.62 145.41,334.57 146.16,334.36 146.9,335.03 147.64,334.91 148.39,334.99 149.13,334.86 149.88,335.22 150.62,335.05 151.36,335.21 152.11,335.06 152.85,335.1 153.59,335.79 154.34,335.43 155.08,335.7 155.83,335.71 156.57,335.7 157.31,335.77 158.06,336.14 158.8,336.01 159.54,336.15 160.29,336.29 161.03,336.68 161.78,336.67 162.52,336.71 163.26,336.61 164.01,336.56 164.75,337.29 165.49,337.47 166.24,337.39 166.98,337.75 167.73,338.02 168.47,338.25 169.21,338.48 169.96,338.37 170.7,339.06" fill="none" stroke="#ff7f0e" stroke-width="1" stroke-linejoin="round" stroke-linecap="square"/>
<rect x="15.5" y="194.4" width="162.8" height="151" fill="none" stroke="#000" stroke-width="0.42"/>
<path d="M22.9 345.4v1.78M41.49 345.4v1.78M60.09 345.4v1.78M78.68 345.4v1.78M97.27 345.4v1.78M115.86 345.4v1.78M134.46 345.4v1.78M153.05 345.4v1.78M171.64 345.4v1.78M15.5 329.31h-1.78M15.5 308.85h-1.78M15.5 288.38h-1.78M15.5 267.91h-1.78M15.5 247.45h-1.78M15.5 226.98h-1.78M15.5 206.52h-1.78" stroke="#000" stroke-width="0.42" fill="none"/>
<text transform="matrix(0.1,0.00001,0.00001,0.1,21.3,353)" font-size="55" textLength="32.08" lengthAdjust="spacingAndGlyphs" fill="#000" stroke="#000" stroke-width="0">0</text>
<text transform="matrix(0.1,0.00001,0.00001,0.1,38.28,353)" font-size="55" textLength="64.17" lengthAdjust="spacingAndGlyphs" fill="#000" stroke="#000" stroke-width="0">25</text>
<text transform="matrix(0.1,0.00001,0.00001,0.1,56.88,353)" font-size="55" textLength="64.17" lengthAdjust="spacingAndGlyphs" fill="#000" stroke="#000" stroke-width="0">50</text>
<text transform="matrix(0.1,0.00001,0.00001,0.1,75.47,353)" font-size="55" textLength="64.17" lengthAdjust="spacingAndGlyphs" fill="#000" stroke="#000" stroke-width="0">75</text>
<text transform="matrix(0.1,0.00001,0.00001,0.1,92.44,353)" font-size="55" textLength="96.71" lengthAdjust="spacingAndGlyphs" fill="#000" stroke="#000" stroke-width="0">100</text>
<text transform="matrix(0.1,0.00001,0.00001,0.1,111.03,353)" font-size="55" textLength="96.71" lengthAdjust="spacingAndGlyphs" fill="#000" stroke="#000" stroke-width="0">125</text>
<text transform="matrix(0.1,0.00001,0.00001,0.1,129.62,353)" font-size="55" textLength="96.71" lengthAdjust="spacingAndGlyphs" fill="#000" stroke="#000" stroke-width="0">150</text>
<text transform="matrix(0.1,0.00001,0.00001,0.1,148.22,353)" font-size="55" textLength="96.71" lengthAdjust="spacingAndGlyphs" fill="#000" stroke="#000" stroke-width="0">175</text>
<text transform="matrix(0.1,0.00001,0.00001,0.1,166.83,353)" font-size="55" textLength="96.25" lengthAdjust="spacingAndGlyphs" fill="#000" stroke="#000" stroke-width="0">200</text>
<text transform="matrix(0.1,0.00001,0.00001,0.1,3.87,331.33)" font-size="55" textLength="80.67" lengthAdjust="spacingAndGlyphs" fill="#000" stroke="#000" stroke-width="0">1.5</text>
<text transform="matrix(0.1,0.00001,0.00001,0.1,3.91,310.86)" font-size="55" textLength="80.21" lengthAdjust="spacingAndGlyphs" fill="#000" stroke="#000" stroke-width="0">2.0</text>
<text transform="matrix(0.1,0.00001,0.00001,0.1,3.91,290.4)" font-size="55" textLength="80.21" lengthAdjust="spacingAndGlyphs" fill="#000" stroke="#000" stroke-width="0">2.5</text>
<text transform="matrix(0.1,0.00001,0.00001,0.1,3.91,269.93)" font-size="55" textLength="80.21" lengthAdjust="spacingAndGlyphs" fill="#000" stroke="#000" stroke-width="0">3.0</text>
<text transform="matrix(0.1,0.00001,0.00001,0.1,3.91,249.47)" font-size="55" textLength="80.21" lengthAdjust="spacingAndGlyphs" fill="#000" stroke="#000" stroke-width="0">3.5</text>
<text transform="matrix(0.1,0.00001,0.00001,0.1,3.91,229)" font-size="55" textLength="80.21" lengthAdjust="spacingAndGlyphs" fill="#000" stroke="#000" stroke-width="0">4.0</text>
<text transform="matrix(0.1,0.00001,0.00001,0.1,3.91,208.53)" font-size="55" textLength="80.21" lengthAdjust="spacingAndGlyphs" fill="#000" stroke="#000" stroke-width="0">4.5</text>
<text transform="matrix(0.1,0.00001,0.00001,0.1,78.41,191.34)" font-size="66" textLength="369.88" lengthAdjust="spacingAndGlyphs" fill="#000" stroke="#000" stroke-width="0">val/box_loss</text>
<text transform="matrix(0.1,0.00001,0.00001,0.1,89.15,360.17)" font-size="55" textLength="154.92" lengthAdjust="spacingAndGlyphs" fill="#000" stroke="#000" stroke-width="0">epoch</text>
<path d="M133.18 213.83L174.74 213.83Q175.75 213.83 175.75 212.81L175.75 197.96Q175.75 196.95 174.74 196.95L133.18 196.95Q132.17 196.95 132.17 197.96L132.17 212.81Q132.17 213.83 133.18 213.83Z" fill="#fff" fill-opacity="0.8" stroke="#ccc" stroke-opacity="0.8" stroke-width="0.51"/>
<path d="M134.2 201.23L144.39 201.23" stroke="#1f77b4" stroke-width="1"/>
<path d="M134.2 208.91L144.39 208.91" stroke="#ff7f0e" stroke-width="1"/>
<text transform="matrix(0.1,0.00001,0.00001,0.1,148.46,203.02)" font-size="55" textLength="197.08" lengthAdjust="spacingAndGlyphs" fill="#000" stroke="#000" stroke-width="0">YOLOv8</text>
<text transform="matrix(0.1,0.00001,0.00001,0.1,148.46,210.7)" font-size="55" textLength="252.54" lengthAdjust="spacingAndGlyphs" fill="#000" stroke="#000" stroke-width="0">YOLO-RRL</text>
<clipPath id="c4"><rect x="199" y="194.4" width="162.6" height="151"/></clipPath>
<polyline clip-path="url(#c4)" points="205.75,200.5 206.49,258.04 207.24,265.09 207.98,271.98 208.72,285.83 209.46,294.35 210.21,297.32 210.95,302.81 211.69,307.31 212.44,310.77 213.18,313.28 213.92,314.69 214.66,315.88 215.41,316.85 216.15,317.41 216.89,318.32 217.63,318.92 218.38,319.73 219.12,320.03 219.86,320.64 220.61,321.25 221.35,321.76 222.09,322.03 222.83,322.75 223.58,323.14 224.32,323.54 225.06,323.92 225.81,324.29 226.55,324.32 227.29,324.95 228.03,324.86 228.78,324.88 229.52,325.31 230.26,325.65 231.01,325.56 231.75,325.95 232.49,326.08 233.23,325.91 233.98,325.84 234.72,326.11 235.46,326.53 236.21,326.41 236.95,326.47 237.69,326.63 238.43,326.94 239.18,327.09 239.92,327.36 240.66,327.54 241.4,327.47 242.15,327.72 242.89,327.75 243.63,328.02 244.38,328 245.12,328.09 245.86,328.58 246.6,328.43 247.35,328.59 248.09,328.9 248.83,328.78 249.58,328.75 250.32,328.85 251.06,328.83 251.8,329.12 252.55,329.03 253.29,329.35 254.03,329.16 254.78,329.23 255.52,329.29 256.26,329.48 257,329.49 257.75,329.69 258.49,329.52 259.23,329.68 259.97,329.93 260.72,329.73 261.46,329.88 262.2,330.06 262.95,329.99 263.69,329.9 264.43,329.78 265.17,330.37 265.92,330.19 266.66,330.34 267.4,330.19 268.15,330.51 268.89,330.41 269.63,330.41 270.37,330.35 271.12,330.55 271.86,330.51 272.6,330.59 273.35,330.48 274.09,330.67 274.83,330.81 275.57,330.69 276.32,330.91 277.06,331.04 277.8,330.98 278.54,331 279.29,331.05 280.03,331.3 280.77,331.06 281.52,331.26 282.26,331.3 283,331.42 283.74,331.45 284.49,331.38 285.23,331.82 285.97,331.65 286.72,331.52 287.46,331.63 288.2,331.8 288.94,331.91 289.69,331.73 290.43,332.02 291.17,331.82 291.92,331.94 292.66,332.19 293.4,332.34 294.14,332.17 294.89,332.19 295.63,332.42 296.37,332.18 297.12,332.38 297.86,332.42 298.6,332.55 299.34,332.5 300.09,332.47 300.83,332.61 301.57,332.44 302.31,332.7 303.06,332.55 303.8,332.55 304.54,332.65 305.29,332.72 306.03,332.82 306.77,332.74 307.51,332.87 308.26,332.92 309,332.81 309.74,332.73 310.49,332.97 311.23,332.91 311.97,332.64 312.71,332.79 313.46,332.95 314.2,332.78 314.94,332.88 315.69,332.77 316.43,333.04 317.17,333.03 317.91,333.04 318.66,333.21 319.4,333 320.14,333.03 320.88,333.32 321.63,332.93 322.37,333.19 323.11,332.96 323.86,333.17 324.6,333.41 325.34,333.21 326.08,333.1 326.83,333.5 327.57,333.17 328.31,333.23 329.06,333.31 329.8,333.14 330.54,333.46 331.28,333.54 332.03,333.47 332.77,333.44 333.51,333.41 334.26,333.57 335,333.11 335.74,333.5 336.48,333.58 337.23,333.34 337.97,333.67 338.71,333.63 339.45,333.68 340.2,333.73 340.94,333.82 341.68,333.85 342.43,333.71 343.17,333.85 343.91,333.88 344.65,333.95 345.4,333.91 346.14,334.14 346.88,334.22 347.63,334.29 348.37,334.38 349.11,334.37 349.85,334.18 350.6,334.21 351.34,334.28 352.08,334.44 352.83,334.4 353.57,334.58" fill="none" stroke="#1f77b4" stroke-width="1" stroke-linejoin="round" stroke-linecap="square"/>
<polyline clip-path="url(#c4)" points="205.75,266.4 206.49,269.82 207.24,274.25 207.98,279.82 208.72,286.7 209.46,294.14 210.21,302.05 210.95,313.16 211.69,317.7 212.44,319.6 213.18,321.02 213.92,322.54 214.66,323.13 215.41,324.1 216.15,324.47 216.89,324.9 217.63,325.23 218.38,325.88 219.12,326.03 219.86,326.63 220.61,326.74 221.35,327.12 222.09,327.22 222.83,327.97 223.58,327.94 224.32,328.15 225.06,328.53 225.81,328.55 226.55,328.96 227.29,328.92 228.03,329.32 228.78,329.31 229.52,329.39 230.26,329.7 231.01,329.76 231.75,330.16 232.49,330.24 233.23,330.44 233.98,330.53 234.72,330.61 235.46,330.79 236.21,331.03 236.95,331.01 237.69,331.05 238.43,331.14 239.18,331.34 239.92,331.38 240.66,331.8 241.4,331.52 242.15,331.63 242.89,331.81 243.63,332.01 244.38,331.98 245.12,331.98 245.86,332.08 246.6,332.21 247.35,332.45 248.09,332.29 248.83,332.47 249.58,332.48 250.32,332.67 251.06,332.75 251.8,332.59 252.55,333.12 253.29,332.93 254.03,332.91 254.78,332.93 255.52,333.08 256.26,333.18 257,333.31 257.75,333.3 258.49,333.42 259.23,333.23 259.97,333.4 260.72,333.43 261.46,333.63 262.2,333.73 262.95,333.56 263.69,333.77 264.43,333.94 265.17,334.02 265.92,333.84 266.66,334.1 267.4,334.13 268.15,334.09 268.89,334.44 269.63,334.13 270.37,334.29 271.12,334.43 271.86,334.47 272.6,334.48 273.35,334.72 274.09,334.79 274.83,334.78 275.57,334.85 276.32,334.79 277.06,334.71 277.8,335.18 278.54,334.86 279.29,335.3 280.03,335.08 280.77,335.19 281.52,335.2 282.26,335.39 283,335.28 283.74,335.62 284.49,335.52 285.23,335.54 285.97,335.51 286.72,335.67 287.46,335.7 288.2,335.98 288.94,335.92 289.69,335.68 290.43,336.11 291.17,335.69 291.92,336.22 292.66,335.86 293.4,336.14 294.14,336.29 294.89,336.24 295.63,336.16 296.37,336.49 297.12,336.17 297.86,336.26 298.6,336.64 299.34,336.41 300.09,336.59 300.83,336.7 301.57,336.63 302.31,336.71 303.06,336.72 303.8,336.77 304.54,336.92 305.29,336.92 306.03,336.87 306.77,336.97 307.51,336.82 308.26,336.82 309,336.81 309.74,337.05 310.49,337.17 311.23,337.01 311.97,336.78 312.71,336.98 313.46,337.11 314.2,337.11 314.94,337.1 315.69,337.23 316.43,337.24 317.17,336.98 317.91,337.21 318.66,337.09 319.4,337.22 320.14,337.36 320.88,337.45 321.63,337.33 322.37,337.2 323.11,337.24 323.86,337.37 324.6,337.2 325.34,337.34 326.08,337.44 326.83,337.5 327.57,337.37 328.31,337.48 329.06,337.62 329.8,337.52 330.54,337.31 331.28,337.57 332.03,337.6 332.77,337.55 333.51,337.64 334.26,337.49 335,337.86 335.74,337.79 336.48,337.71 337.23,337.84 337.97,337.87 338.71,337.79 339.45,337.61 340.2,337.63 340.94,338.26 341.68,337.92 342.43,338.06 343.17,338.21 343.91,338.15 344.65,338.38 345.4,338.17 346.14,338.4 346.88,338.12 347.63,338.51 348.37,338.55 349.11,338.57 349.85,338.61 350.6,338.65 351.34,338.78 352.08,338.84 352.83,338.66 353.57,338.96" fill="none" stroke="#ff7f0e" stroke-width="1" stroke-linejoin="round" stroke-linecap="square"/>
<rect x="199" y="194.4" width="162.6" height="151" fill="none" stroke="#000" stroke-width="0.42"/>
<path d="M206.39 345.4v1.78M224.96 345.4v1.78M243.53 345.4v1.78M262.1 345.4v1.78M280.67 345.4v1.78M299.24 345.4v1.78M317.81 345.4v1.78M336.38 345.4v1.78M354.95 345.4v1.78M199 344.4h-1.78M199 320.77h-1.78M199 297.14h-1.78M199 273.51h-1.78M199 249.88h-1.78M199 226.25h-1.78M199 202.62h-1.78" stroke="#000" stroke-width="0.42" fill="none"/>
<text transform="matrix(0.1,0.00001,0.00001,0.1,204.79,353)" font-size="55" textLength="32.08" lengthAdjust="spacingAndGlyphs" fill="#000" stroke="#000" stroke-width="0">0</text>
<text transform="matrix(0.1,0.00001,0.00001,0.1,221.75,353)" font-size="55" textLength="64.17" lengthAdjust="spacingAndGlyphs" fill="#000" stroke="#000" stroke-width="0">25</text>
<text transform="matrix(0.1,0.00001,0.00001,0.1,240.32,353)" font-size="55" textLength="64.17" lengthAdjust="spacingAndGlyphs" fill="#000" stroke="#000" stroke-width="0">50</text>
<text transform="matrix(0.1,0.00001,0.00001,0.1,258.89,353)" font-size="55" textLength="64.17" lengthAdjust="spacingAndGlyphs" fill="#000" stroke="#000" stroke-width="0">75</text>
<text transform="matrix(0.1,0.00001,0.00001,0.1,275.84,353)" font-size="55" textLength="96.71" lengthAdjust="spacingAndGlyphs" fill="#000" stroke="#000" stroke-width="0">100</text>
<text transform="matrix(0.1,0.00001,0.00001,0.1,294.41,353)" font-size="55" textLength="96.71" lengthAdjust="spacingAndGlyphs" fill="#000" stroke="#000" stroke-width="0">125</text>
<text transform="matrix(0.1,0.00001,0.00001,0.1,312.98,353)" font-size="55" textLength="96.71" lengthAdjust="spacingAndGlyphs" fill="#000" stroke="#000" stroke-width="0">150</text>
<text transform="matrix(0.1,0.00001,0.00001,0.1,331.55,353)" font-size="55" textLength="96.71" lengthAdjust="spacingAndGlyphs" fill="#000" stroke="#000" stroke-width="0">175</text>
<text transform="matrix(0.1,0.00001,0.00001,0.1,350.14,353)" font-size="55" textLength="96.25" lengthAdjust="spacingAndGlyphs" fill="#000" stroke="#000" stroke-width="0">200</text>
<text transform="matrix(0.1,0.00001,0.00001,0.1,187.37,346.41)" font-size="55" textLength="80.67" lengthAdjust="spacingAndGlyphs" fill="#000" stroke="#000" stroke-width="0">0.8</text>
<text transform="matrix(0.1,0.00001,0.00001,0.1,187.37,322.78)" font-size="55" textLength="80.67" lengthAdjust="spacingAndGlyphs" fill="#000" stroke="#000" stroke-width="0">1.0</text>
<text transform="matrix(0.1,0.00001,0.00001,0.1,187.37,299.15)" font-size="55" textLength="80.67" lengthAdjust="spacingAndGlyphs" fill="#000" stroke="#000" stroke-width="0">1.2</text>
<text transform="matrix(0.1,0.00001,0.00001,0.1,187.37,275.53)" font-size="55" textLength="80.67" lengthAdjust="spacingAndGlyphs" fill="#000" stroke="#000" stroke-width="0">1.4</text>
<text transform="matrix(0.1,0.00001,0.00001,0.1,187.32,251.9)" font-size="55" textLength="81.12" lengthAdjust="spacingAndGlyphs" fill="#000" stroke="#000" stroke-width="0">1.6</text>
<text transform="matrix(0.1,0.00001,0.00001,0.1,187.32,228.27)" font-size="55" textLength="81.12" lengthAdjust="spacingAndGlyphs" fill="#000" stroke="#000" stroke-width="0">1.8</text>
<text transform="matrix(0.1,0.00001,0.00001,0.1,187.41,204.64)" font-size="55" textLength="80.21" lengthAdjust="spacingAndGlyphs" fill="#000" stroke="#000" stroke-width="0">2.0</text>
<text transform="matrix(0.1,0.00001,0.00001,0.1,263.46,191.34)" font-size="66" textLength="336.88" lengthAdjust="spacingAndGlyphs" fill="#000" stroke="#000" stroke-width="0">val/dfl_loss</text>
<text transform="matrix(0.1,0.00001,0.00001,0.1,272.55,360.17)" font-size="55" textLength="154.92" lengthAdjust="spacingAndGlyphs" fill="#000" stroke="#000" stroke-width="0">epoch</text>
<path d="M316.48 213.83L358.04 213.83Q359.05 213.83 359.05 212.81L359.05 197.96Q359.05 196.95 358.04 196.95L316.48 196.95Q315.47 196.95 315.47 197.96L315.47 212.81Q315.47 213.83 316.48 213.83Z" fill="#fff" fill-opacity="0.8" stroke="#ccc" stroke-opacity="0.8" stroke-width="0.51"/>
<path d="M317.5 201.23L327.69 201.23" stroke="#1f77b4" stroke-width="1"/>
<path d="M317.5 208.91L327.69 208.91" stroke="#ff7f0e" stroke-width="1"/>
<text transform="matrix(0.1,0.00001,0.00001,0.1,331.76,203.02)" font-size="55" textLength="197.08" lengthAdjust="spacingAndGlyphs" fill="#000" stroke="#000" stroke-width="0">YOLOv8</text>
<text transform="matrix(0.1,0.00001,0.00001,0.1,331.76,210.7)" font-size="55" textLength="252.54" lengthAdjust="spacingAndGlyphs" fill="#000" stroke="#000" stroke-width="0">YOLO-RRL</text>
<clipPath id="c5"><rect x="382.4" y="194.4" width="162.7" height="151"/></clipPath>
<polyline clip-path="url(#c5)" points="389.2,201.2 389.75,264.5 390.3,201.5 390.9,283 391.7,294 393.01,304.09 393.76,308.74 394.5,313.95 395.24,318.17 395.98,320.26 396.73,321.96 397.47,323.32 398.21,324.47 398.96,325.4 399.7,326.09 400.44,326.82 401.19,327.67 401.93,328.02 402.67,328.77 403.42,329.33 404.16,329.58 404.9,329.93 405.65,330.26 406.39,330.7 407.13,330.86 407.88,330.89 408.62,331.29 409.36,331.68 410.11,331.88 410.85,332.03 411.59,332.1 412.34,332.08 413.08,332.48 413.82,332.58 414.57,332.75 415.31,333.05 416.05,333.01 416.8,333.13 417.54,333.27 418.28,333.26 419.03,333.3 419.77,333.37 420.51,333.63 421.26,333.68 422,333.63 422.74,333.9 423.49,333.85 424.23,333.73 424.97,334.03 425.72,334 426.46,333.92 427.2,334.2 427.95,334.15 428.69,334.2 429.43,334.37 430.17,334.08 430.92,334.24 431.66,334.39 432.4,334.52 433.15,334.45 433.89,334.46 434.63,334.49 435.38,334.65 436.12,334.78 436.86,334.57 437.61,334.53 438.35,334.79 439.09,334.81 439.84,334.79 440.58,335.01 441.32,335.07 442.07,334.94 442.81,335 443.55,335.15 444.3,335.07 445.04,334.98 445.78,335.18 446.53,335.12 447.27,335.3 448.01,335.24 448.76,335.32 449.5,335.44 450.24,335.4 450.99,335.38 451.73,335.37 452.47,335.73 453.22,335.7 453.96,335.42 454.7,335.51 455.45,335.75 456.19,335.64 456.93,335.75 457.68,335.89 458.42,335.84 459.16,335.84 459.91,335.84 460.65,335.92 461.39,336.01 462.14,336.21 462.88,336.16 463.62,336.05 464.36,336.22 465.11,336.15 465.85,335.99 466.59,336.19 467.34,336.36 468.08,336.2 468.82,336.41 469.57,336.29 470.31,336.36 471.05,336.25 471.8,336.67 472.54,336.5 473.28,336.59 474.03,336.44 474.77,336.35 475.51,336.7 476.26,336.49 477,336.8 477.74,336.6 478.49,336.84 479.23,336.58 479.97,336.47 480.72,336.79 481.46,336.72 482.2,336.74 482.95,336.88 483.69,336.67 484.43,336.63 485.18,336.66 485.92,336.62 486.66,336.61 487.41,336.69 488.15,336.74 488.89,336.82 489.64,336.74 490.38,336.88 491.12,337 491.87,336.89 492.61,336.98 493.35,336.83 494.1,336.99 494.84,337.02 495.58,336.9 496.33,336.81 497.07,336.98 497.81,337.01 498.55,337.19 499.3,336.98 500.04,337.24 500.78,336.77 501.53,337.03 502.27,337.01 503.01,337.04 503.76,337.03 504.5,337.1 505.24,337.31 505.99,337.11 506.73,337.28 507.47,337.13 508.22,337.17 508.96,336.88 509.7,337.19 510.45,337.26 511.19,337.06 511.93,337.13 512.68,337.11 513.42,337.47 514.16,337.11 514.91,337.15 515.65,336.92 516.39,337.07 517.14,337.29 517.88,337.12 518.62,336.95 519.37,337.25 520.11,337.3 520.85,337.33 521.6,337.35 522.34,337.24 523.08,337.65 523.83,337.25 524.57,337.38 525.31,337.18 526.06,337.26 526.8,337.16 527.54,337.37 528.29,337.3 529.03,337.23 529.77,337.12 530.52,337.42 531.26,337.46 532,337.46 532.74,337.36 533.49,337.45 534.23,337.48 534.97,337.43 535.72,337.54 536.46,337.36 537.2,337.4" fill="none" stroke="#1f77b4" stroke-width="1" stroke-linejoin="round" stroke-linecap="square"/>
<polyline clip-path="url(#c5)" points="389.3,277.1 390.04,284.81 390.78,291.6 391.53,297.37 392.27,302.61 393.01,309.81 393.76,315.8 394.5,320.55 395.24,323.67 395.98,325.68 396.73,327.6 397.47,328.49 398.21,329.48 398.96,330.1 399.7,330.63 400.44,331.13 401.19,331.52 401.93,331.69 402.67,331.95 403.42,332.28 404.16,332.29 404.9,332.39 405.65,332.78 406.39,332.81 407.13,332.81 407.88,333.08 408.62,333.26 409.36,333.31 410.11,333.4 410.85,333.7 411.59,333.92 412.34,333.9 413.08,333.94 413.82,334.18 414.57,334.31 415.31,334.28 416.05,334.46 416.8,334.6 417.54,334.53 418.28,334.52 419.03,334.73 419.77,334.78 420.51,334.94 421.26,334.71 422,334.84 422.74,334.87 423.49,334.81 424.23,335.09 424.97,335.18 425.72,335.08 426.46,335.38 427.2,335.36 427.95,335.37 428.69,335.39 429.43,335.5 430.17,335.26 430.92,335.53 431.66,335.57 432.4,335.32 433.15,335.61 433.89,335.57 434.63,335.73 435.38,335.62 436.12,335.7 436.86,335.78 437.61,335.67 438.35,335.88 439.09,335.82 439.84,335.93 440.58,335.84 441.32,336.06 442.07,336.04 442.81,335.98 443.55,336.11 444.3,336.22 445.04,336.32 445.78,335.95 446.53,336.28 447.27,336.26 448.01,336.23 448.76,336.15 449.5,336.46 450.24,336.19 450.99,336.45 451.73,336.57 452.47,336.26 453.22,336.45 453.96,336.36 454.7,336.58 455.45,336.77 456.19,336.86 456.93,336.44 457.68,336.62 458.42,336.8 459.16,336.94 459.91,336.83 460.65,336.73 461.39,336.88 462.14,336.88 462.88,336.89 463.62,336.86 464.36,337.02 465.11,337.04 465.85,337.03 466.59,337.04 467.34,336.94 468.08,337.07 468.82,337.3 469.57,337.16 470.31,337.04 471.05,337.41 471.8,337.34 472.54,337.55 473.28,337.34 474.03,337.3 474.77,337.21 475.51,337.57 476.26,337.74 477,337.36 477.74,337.41 478.49,337.58 479.23,337.43 479.97,337.52 480.72,337.54 481.46,337.62 482.2,337.75 482.95,337.65 483.69,337.78 484.43,337.63 485.18,337.74 485.92,337.47 486.66,337.57 487.41,337.86 488.15,337.71 488.89,337.87 489.64,337.89 490.38,338 491.12,337.96 491.87,338 492.61,337.88 493.35,337.83 494.1,337.84 494.84,337.89 495.58,337.83 496.33,337.92 497.07,337.99 497.81,338.05 498.55,338 499.3,337.83 500.04,338.07 500.78,338.12 501.53,338.24 502.27,338.2 503.01,338.07 503.76,338.08 504.5,338.42 505.24,338.29 505.99,338.43 506.73,338.48 507.47,338.15 508.22,338.31 508.96,338.33 509.7,338.36 510.45,338.37 511.19,338.35 511.93,338.36 512.68,338.17 513.42,338.35 514.16,338.29 514.91,338.41 515.65,338.35 516.39,338.5 517.14,338.53 517.88,338.49 518.62,338.5 519.37,338.49 520.11,338.43 520.85,338.48 521.6,338.45 522.34,338.57 523.08,338.54 523.83,338.61 524.57,338.4 525.31,338.67 526.06,338.49 526.8,338.5 527.54,338.57 528.29,338.54 529.03,338.65 529.77,338.56 530.52,338.5 531.26,338.54 532,338.81 532.74,338.66 533.49,338.52 534.23,338.67 534.97,338.49 535.72,338.9 536.46,338.51 537.2,338.75" fill="none" stroke="#ff7f0e" stroke-width="1" stroke-linejoin="round" stroke-linecap="square"/>
<rect x="382.4" y="194.4" width="162.7" height="151" fill="none" stroke="#000" stroke-width="0.42"/>
<path d="M389.8 345.4v1.78M408.38 345.4v1.78M426.96 345.4v1.78M445.54 345.4v1.78M464.12 345.4v1.78M482.7 345.4v1.78M501.28 345.4v1.78M519.87 345.4v1.78M538.45 345.4v1.78M382.4 320.6h-1.78M382.4 293.46h-1.78M382.4 266.32h-1.78M382.4 239.17h-1.78M382.4 212.03h-1.78" stroke="#000" stroke-width="0.42" fill="none"/>
<text transform="matrix(0.1,0.00001,0.00001,0.1,388.19,353)" font-size="55" textLength="32.08" lengthAdjust="spacingAndGlyphs" fill="#000" stroke="#000" stroke-width="0">0</text>
<text transform="matrix(0.1,0.00001,0.00001,0.1,405.17,353)" font-size="55" textLength="64.17" lengthAdjust="spacingAndGlyphs" fill="#000" stroke="#000" stroke-width="0">25</text>
<text transform="matrix(0.1,0.00001,0.00001,0.1,423.75,353)" font-size="55" textLength="64.17" lengthAdjust="spacingAndGlyphs" fill="#000" stroke="#000" stroke-width="0">50</text>
<text transform="matrix(0.1,0.00001,0.00001,0.1,442.33,353)" font-size="55" textLength="64.17" lengthAdjust="spacingAndGlyphs" fill="#000" stroke="#000" stroke-width="0">75</text>
<text transform="matrix(0.1,0.00001,0.00001,0.1,459.29,353)" font-size="55" textLength="96.71" lengthAdjust="spacingAndGlyphs" fill="#000" stroke="#000" stroke-width="0">100</text>
<text transform="matrix(0.1,0.00001,0.00001,0.1,477.87,353)" font-size="55" textLength="96.71" lengthAdjust="spacingAndGlyphs" fill="#000" stroke="#000" stroke-width="0">125</text>
<text transform="matrix(0.1,0.00001,0.00001,0.1,496.45,353)" font-size="55" textLength="96.71" lengthAdjust="spacingAndGlyphs" fill="#000" stroke="#000" stroke-width="0">150</text>
<text transform="matrix(0.1,0.00001,0.00001,0.1,515.03,353)" font-size="55" textLength="96.71" lengthAdjust="spacingAndGlyphs" fill="#000" stroke="#000" stroke-width="0">175</text>
<text transform="matrix(0.1,0.00001,0.00001,0.1,533.64,353)" font-size="55" textLength="96.25" lengthAdjust="spacingAndGlyphs" fill="#000" stroke="#000" stroke-width="0">200</text>
<text transform="matrix(0.1,0.00001,0.00001,0.1,375.63,322.62)" font-size="55" textLength="32.08" lengthAdjust="spacingAndGlyphs" fill="#000" stroke="#000" stroke-width="0">2</text>
<text transform="matrix(0.1,0.00001,0.00001,0.1,375.63,295.48)" font-size="55" textLength="32.08" lengthAdjust="spacingAndGlyphs" fill="#000" stroke="#000" stroke-width="0">4</text>
<text transform="matrix(0.1,0.00001,0.00001,0.1,375.58,268.33)" font-size="55" textLength="32.54" lengthAdjust="spacingAndGlyphs" fill="#000" stroke="#000" stroke-width="0">6</text>
<text transform="matrix(0.1,0.00001,0.00001,0.1,375.58,241.19)" font-size="55" textLength="32.54" lengthAdjust="spacingAndGlyphs" fill="#000" stroke="#000" stroke-width="0">8</text>
<text transform="matrix(0.1,0.00001,0.00001,0.1,372.37,214.05)" font-size="55" textLength="64.62" lengthAdjust="spacingAndGlyphs" fill="#000" stroke="#000" stroke-width="0">10</text>
<text transform="matrix(0.1,0.00001,0.00001,0.1,446.63,191.34)" font-size="66" textLength="342.38" lengthAdjust="spacingAndGlyphs" fill="#000" stroke="#000" stroke-width="0">val/cls_loss</text>
<text transform="matrix(0.1,0.00001,0.00001,0.1,456,360.17)" font-size="55" textLength="154.92" lengthAdjust="spacingAndGlyphs" fill="#000" stroke="#000" stroke-width="0">epoch</text>
<path d="M499.98 213.83L541.54 213.83Q542.55 213.83 542.55 212.81L542.55 197.96Q542.55 196.95 541.54 196.95L499.98 196.95Q498.97 196.95 498.97 197.96L498.97 212.81Q498.97 213.83 499.98 213.83Z" fill="#fff" fill-opacity="0.8" stroke="#ccc" stroke-opacity="0.8" stroke-width="0.51"/>
<path d="M501 201.23L511.19 201.23" stroke="#1f77b4" stroke-width="1"/>
<path d="M501 208.91L511.19 208.91" stroke="#ff7f0e" stroke-width="1"/>
<text transform="matrix(0.1,0.00001,0.00001,0.1,515.26,203.02)" font-size="55" textLength="197.08" lengthAdjust="spacingAndGlyphs" fill="#000" stroke="#000" stroke-width="0">YOLOv8</text>
<text transform="matrix(0.1,0.00001,0.00001,0.1,515.26,210.7)" font-size="55" textLength="252.54" lengthAdjust="spacingAndGlyphs" fill="#000" stroke="#000" stroke-width="0">YOLO-RRL</text>
</svg></div>
</body></html>
